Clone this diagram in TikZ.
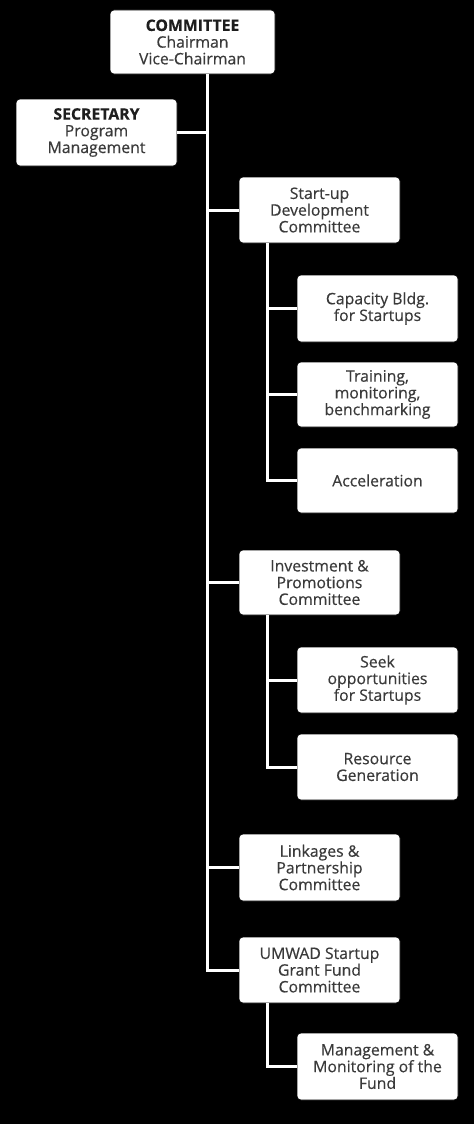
\documentclass[tikz,border=0pt]{standalone}
\usepackage{fontspec}
\setmainfont{Open Sans}[FakeBold=0.4]
\usetikzlibrary{calc}
\definecolor{txt}{HTML}{3A3A3A}
\definecolor{txtb}{HTML}{1E1E1E}
\tikzset{
  box/.style={draw=black, line width=0.6pt, fill=white, rounded corners=4pt,
    minimum width=161pt, minimum height=66pt, align=center, inner sep=2pt,
    text=txt, font=\fontsize{15.8}{16.7}\selectfont},
  conn/.style={draw=white, line width=3pt},
}
\begin{document}
\begin{tikzpicture}[x=1pt,y=-1pt]
\fill[black] (0,0) rectangle (474,1124);
\useasboundingbox (0,0) rectangle (474,1124);
\coordinate (tx) at (207,0);
\coordinate (sx) at (267,0);
% nodes
\node[box, minimum width=165pt, minimum height=64pt] (committee) at (192.5,42)
  {{\color{txtb}\bfseries COMMITTEE}\\Chairman\\Vice-Chairman};
\node[box, minimum height=67pt] (secretary) at (96.5,132.5)
  {{\color{txtb}\bfseries SECRETARY}\\Program\\Management};
\node[box] (startup) at (319.5,210) {Start-up\\Development\\Committee};
\node[box, minimum height=67pt] (capacity) at (377.5,308.5) {Capacity Bldg.\\for Startups};
\node[box, minimum height=65pt] (training) at (377.5,394.5) {Training,\\monitoring,\\benchmarking};
\node[box, minimum height=65pt] (accel) at (377.5,480.5) {Acceleration};
\node[box, minimum height=65pt] (invest) at (319.5,582.5) {Investment \&\\Promotions\\Committee};
\node[box] (seek) at (377.5,680) {Seek\\opportunities\\for Startups};
\node[box] (resource) at (377.5,767) {Resource\\Generation};
\node[box, minimum height=67pt] (linkages) at (319.5,867.5) {Linkages \&\\Partnership\\Committee};
\node[box] (umwad) at (319.5,970) {UMWAD Startup\\Grant Fund\\Committee};
\node[box, minimum height=67pt] (mgmt) at (377.5,1066.5) {Management \&\\Monitoring of the\\Fund};
% trunk
\draw[conn] (committee.south -| tx) |- (umwad.west);
\draw[conn] (secretary.east) -- (secretary.east -| tx);
\draw[conn] (startup.west -| tx) -- (startup.west);
\draw[conn] (invest.west -| tx) -- (invest.west);
\draw[conn] (linkages.west -| tx) -- (linkages.west);
% start-up branch
\draw[conn] (startup.south -| sx) |- (accel.west);
\draw[conn] (capacity.west -| sx) -- (capacity.west);
\draw[conn] (training.west -| sx) -- (training.west);
% investment branch
\draw[conn] (invest.south -| sx) |- (resource.west);
\draw[conn] (seek.west -| sx) -- (seek.west);
% umwad branch
\draw[conn] (umwad.south -| sx) |- (mgmt.west);
\end{tikzpicture}
\end{document}
